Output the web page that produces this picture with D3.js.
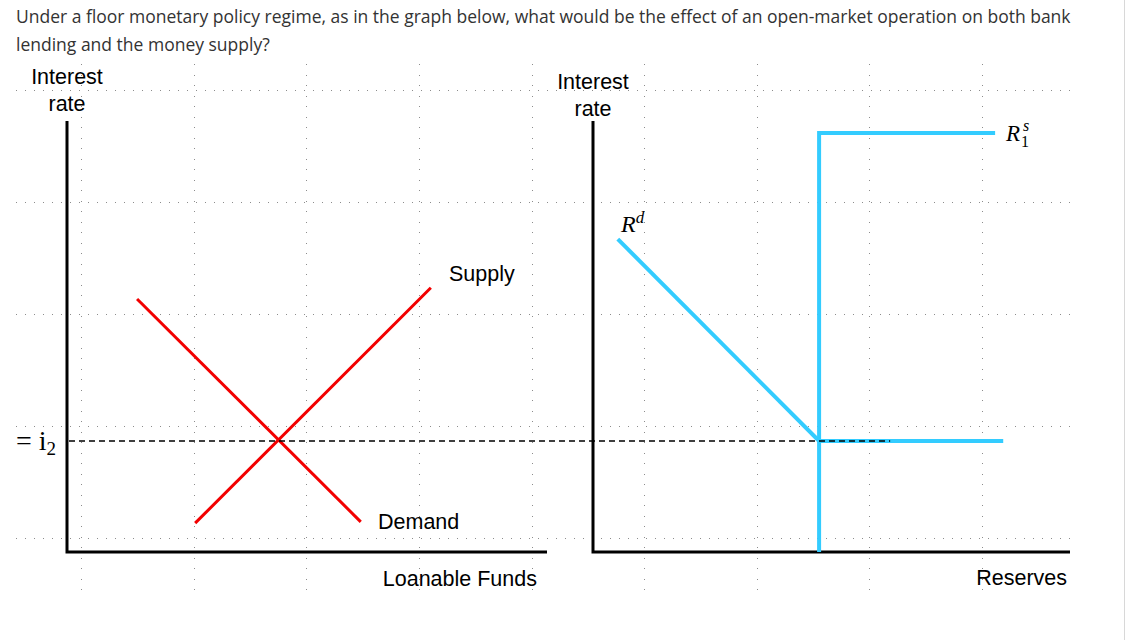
<!DOCTYPE html>
<html>
<head>
<meta charset="utf-8">
<script src="https://cdn.jsdelivr.net/npm/d3@7"></script>
<style>
  body { margin: 0; background: #fff; }
  svg { display: block; }
  .title { font-family: "Open Sans", sans-serif; font-size: 17.5px; fill: #333; }
  .label { font-family: "Liberation Sans", Arial, sans-serif; font-size: 21.5px; fill: #000; }
  .math { font-family: "Liberation Serif", "Times New Roman", serif; fill: #000; }
</style>
</head>
<body>
<div id="wrapper"></div>
<script>
// question text
const titleLines = [
  "Under a floor monetary policy regime, as in the graph below, what would be the effect of an open-market operation on both bank",
  "lending and the money supply?"
]

// background grid (grid units)
const gridCols = [0, 1, 2, 3, 4, 5, 6, 7, 8]
const gridRows = [0, 1, 2, 3, 4]

// loanable funds market (0-100 units on both axes)
const demandCurve = [[14.6, 58.7], [61.2, 7.0]]
const supplyCurve = [[26.7, 6.7], [75.8, 61.3]]
const floorRate = 25.75

// reserves market (0-100 units)
const reserveDemand = [[5.2, 72.6], [47.4, 25.75]]
const reserveSupply = [[84.3, 97.2], [47.4, 97.2], [47.4, 0]]
const reserveFloor = [[47.4, 25.75], [86.0, 25.75]]
const dashedEnd = 62.3

function drawChart() {
  const dimensions = { width: 1127, height: 640 }

  const wrapper = d3.select("#wrapper")
    .append("svg")
      .attr("width", dimensions.width)
      .attr("height", dimensions.height)

  // scales
  const gridX = d3.scaleLinear().domain([0, 8]).range([81, 982])
  const gridY = d3.scaleLinear().domain([0, 4]).range([90, 538])
  const leftX = d3.scaleLinear().domain([0, 100]).range([67, 547])
  const rightX = d3.scaleLinear().domain([0, 100]).range([593, 1070])
  const yScale = d3.scaleLinear().domain([0, 100]).range([552, 121])

  // title
  wrapper.selectAll(".title")
    .data(titleLines)
    .join("text")
      .attr("class", "title")
      .attr("x", 16)
      .attr("y", (d, i) => 23 + i * 28)
      .text(d => d)

  // dotted grid
  const grid = wrapper.append("g")
      .attr("stroke", "#8c8c8c")
      .attr("stroke-width", 1)
      .attr("shape-rendering", "crispEdges")

  grid.selectAll(".h-grid")
    .data(gridRows)
    .join("line")
      .attr("x1", 16)
      .attr("x2", 1078)
      .attr("y1", d => Math.round(gridY(d)) + 0.5)
      .attr("y2", d => Math.round(gridY(d)) + 0.5)
      .attr("stroke-dasharray", "1,8")

  grid.selectAll(".v-grid")
    .data(gridCols)
    .join("line")
      .attr("x1", d => Math.round(gridX(d)) + 0.5)
      .attr("x2", d => Math.round(gridX(d)) + 0.5)
      .attr("y1", 64)
      .attr("y2", 600)
      .attr("stroke-dasharray", "1,9.5")

  // image border on the right
  wrapper.append("line")
      .attr("x1", 1124.5).attr("x2", 1124.5)
      .attr("y1", 0).attr("y2", 640)
      .attr("stroke", "#d8d8d8")
      .attr("stroke-width", 1)

  const line = xs => d3.line()
    .x(d => xs(d[0]))
    .y(d => yScale(d[1]))

  // axes
  const axisPath = xs => `M${xs(0)},${yScale(100)}V${yScale(0)}H${xs(100)}`
  wrapper.append("path")
      .attr("d", axisPath(leftX))
      .attr("fill", "none")
      .attr("stroke", "#000")
      .attr("stroke-width", 3)
  wrapper.append("path")
      .attr("d", axisPath(rightX))
      .attr("fill", "none")
      .attr("stroke", "#000")
      .attr("stroke-width", 3)

  // loanable funds curves
  wrapper.selectAll(".lf-curve")
    .data([demandCurve, supplyCurve])
    .join("path")
      .attr("d", d => line(leftX)(d))
      .attr("fill", "none")
      .attr("stroke", "#f20000")
      .attr("stroke-width", 3)

  // reserves curves
  wrapper.selectAll(".res-curve")
    .data([reserveDemand, reserveSupply, reserveFloor])
    .join("path")
      .attr("d", d => line(rightX)(d))
      .attr("fill", "none")
      .attr("stroke", "#33ccff")
      .attr("stroke-width", 4)

  // dashed floor rate line across both panels
  wrapper.append("line")
      .attr("x1", leftX(0) + 2)
      .attr("x2", rightX(dashedEnd))
      .attr("y1", yScale(floorRate))
      .attr("y2", yScale(floorRate))
      .attr("stroke", "#000")
      .attr("stroke-width", 1.5)
      .attr("stroke-dasharray", "6,4")

  // axis titles
  const label = (x, y, text, anchor) => wrapper.append("text")
      .attr("class", "label")
      .attr("x", x)
      .attr("y", y)
      .attr("text-anchor", anchor)
      .text(text)

  label(leftX(0), 84, "Interest", "middle")
  label(leftX(0), 111, "rate", "middle")
  label(rightX(0), 89, "Interest", "middle")
  label(rightX(0), 116, "rate", "middle")
  label(leftX(100) - 10, 586, "Loanable Funds", "end")
  label(rightX(100) - 3, 585, "Reserves", "end")
  label(449, 281, "Supply", "start")
  label(378, 529, "Demand", "start")

  // = i2
  const iLabel = wrapper.append("text")
      .attr("class", "math")
      .attr("x", 16)
      .attr("y", yScale(floorRate) + 9)
      .attr("font-size", 28)
  iLabel.append("tspan").text("= i")
  iLabel.append("tspan").attr("font-size", 19).attr("dy", 5).text("2")

  // R^d
  const rd = wrapper.append("text")
      .attr("class", "math")
      .attr("x", 621)
      .attr("y", 232)
      .attr("font-size", 24)
      .attr("font-style", "italic")
  rd.append("tspan").text("R")
  rd.append("tspan").attr("font-size", 17).attr("dy", -9).text("d")

  // R^s_1
  const rs = wrapper.append("g")
      .attr("class", "math")
      .attr("font-style", "italic")
  rs.append("text").attr("x", 1006).attr("y", 141).attr("font-size", 23).text("R")
  rs.append("text").attr("x", 1023).attr("y", 131).attr("font-size", 16).text("s")
  rs.append("text").attr("x", 1021).attr("y", 147).attr("font-size", 16).attr("font-style", "normal").text("1")
}
drawChart()
</script>
</body>
</html>
